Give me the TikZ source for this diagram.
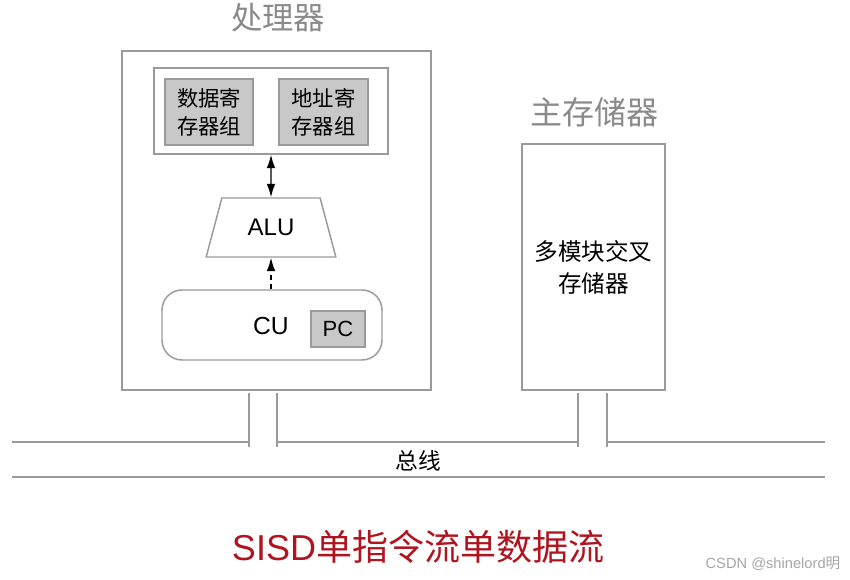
\documentclass[tikz,border=0pt]{standalone}
\usepackage{fontspec}
\setmainfont{Liberation Sans}
\newfontfamily\cjk{Noto Sans CJK SC}
\usetikzlibrary{calc, positioning, shapes.geometric, arrows.meta}

\definecolor{linegray}{HTML}{9A9A9A}
\definecolor{titlegray}{HTML}{8A8A8A}
\definecolor{regfill}{HTML}{C8C8C8}
\definecolor{sisdred}{HTML}{B0141E}

\tikzset{
	box/.style={draw=linegray, line width=1.1pt, inner sep=0pt},
	regbox/.style={box, fill=regfill, minimum width=66pt, minimum height=49.5pt, align=center, font=\cjk\fontsize{16}{21}\selectfont},
	title/.style={text=titlegray, inner sep=0pt, font=\cjk\fontsize{24}{27}\selectfont},
	busline/.style={draw=linegray, line width=1.1pt},
	arrowtip/.style={line width=1.1pt, black},
	tip/.tip={Latex[length=10pt,width=6.5pt]}
}

\begin{document}
\begin{tikzpicture}[x=0.75pt, y=-0.75pt]
		\useasboundingbox (0,0) rectangle (850,580);

		\def\ytop{442};
		\def\ybot{477};

		\node[box, minimum width=231.75pt, minimum height=254.25pt] (proc) at (276.5,220.5) {};
		\node[title, font=\cjk\fontsize{23.5}{27}\selectfont] (proctitle) at (278,18) {处理器};

		\node[box, minimum width=175.5pt, minimum height=64.5pt] (regs) at (271,111) {};
		\node[regbox] (datareg) at (209,112) {数据寄\\存器组};
		\node[regbox, minimum width=66.75pt] (addrreg) at (323.5,112) {地址寄\\存器组};

		\node[box, trapezium, trapezium angle=66, trapezium stretches=true,
			minimum width=97.5pt, minimum height=44.25pt,
			font=\fontsize{18}{21}\selectfont] (alu) at (271,227.5) {ALU};

		\node[box, rounded corners=15pt, minimum width=165pt, minimum height=52.5pt] (cu) at (272,325) {};
		\node[font=\fontsize{18.5}{21}\selectfont, inner sep=0pt] (culabel) at (271,326) {CU};
		\node[box, fill=regfill, minimum width=40.5pt, minimum height=27pt,
			font=\fontsize{16.5}{19}\selectfont] (pc) at (338,329) {PC};

		\draw[arrowtip, tip-tip] (regs.south) -- (alu.north);
		\draw[arrowtip, dash pattern=on 4pt off 3pt, -tip] (alu.south |- cu.north) -- (alu.south);

		\node[box, minimum width=107.25pt, minimum height=184.5pt, align=center,
			font=\cjk\fontsize{17.7}{24}\selectfont] (mem) at (593.5,267) {多模块交叉\\存储器};
		\node[title] (memtitle) at (594,112) {主存储器};

		\coordinate (busleft) at (12,\ytop);
		\coordinate (busright) at (825,\ytop);

		\foreach \n/\x in {p1/249, p2/277, m1/578, m2/607}
		{
			\coordinate (\n) at (\x,393);
			\draw[busline] (\n) -- (\x,447);
		}

		\draw[busline] (busleft) -- (p1 |- busleft);
		\draw[busline] (p2 |- busleft) -- (m1 |- busleft);
		\draw[busline] (m2 |- busleft) -- (busright);
		\draw[busline] (12,\ybot) -- (825,\ybot);

		\node[inner sep=0pt, font=\cjk\fontsize{17}{19}\selectfont] (bus) at (418,461) {总线};

		\node[inner sep=0pt, text=sisdred, font=\fontsize{27}{30}\selectfont] (caption) at (418,547) {SISD{\cjk 单指令流单数据流}};
		\node[inner sep=0pt, text=black!35, font=\fontsize{11}{13}\selectfont] (mark) at (773,564) {CSDN @shinelord{\cjk 明}};
	\end{tikzpicture}
\end{document}
